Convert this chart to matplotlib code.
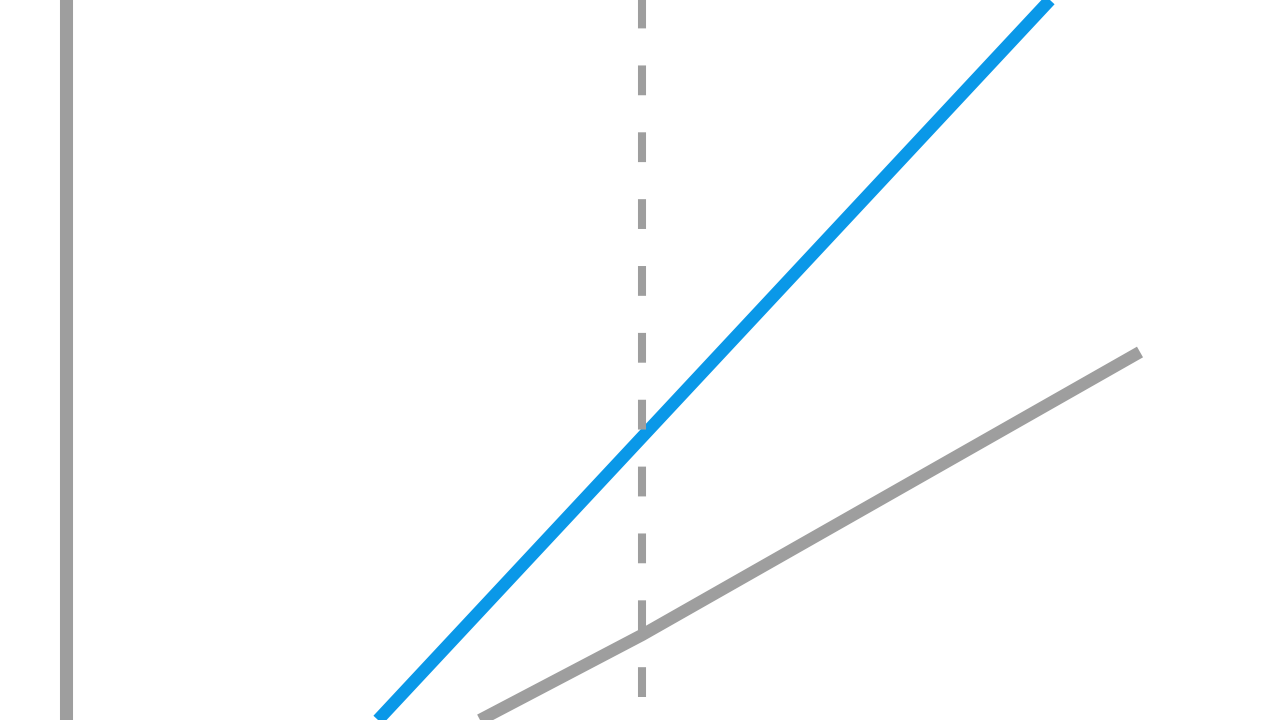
import numpy as np
import matplotlib
matplotlib.use("Agg")
import matplotlib.pyplot as plt

# values (x from the y axis, y up from the bottom edge)
blue_x = [312, 984]
blue_y = [0, 720]
gray_x = [414, 576, 1074]
gray_y = [0, 85, 368]
marker_x = 576
marker_y = [23, 720]

GRAY = "#9e9e9e"
BLUE = "#0a98e8"

fig = plt.figure(figsize=(12.8, 7.2), dpi=100)
ax = fig.add_axes([66 / 1280, 0, 1 - 66 / 1280, 1])
ax.set_xlim(0, 1214)
ax.set_ylim(0, 720)

ax.plot(blue_x, blue_y, color=BLUE, linewidth=9, solid_capstyle="butt")
ax.plot(gray_x, gray_y, color=GRAY, linewidth=8.8, solid_capstyle="butt")
ax.plot([marker_x, marker_x], marker_y, color=GRAY, linewidth=5.8,
        linestyle=(0, (3.7, 4.6)), dash_capstyle="butt")

for side in ["top", "right", "bottom"]:
    ax.spines[side].set_visible(False)
ax.spines["left"].set_color(GRAY)
ax.spines["left"].set_linewidth(9.4)
ax.set_xticks([])
ax.set_yticks([])

fig.savefig("out.png", dpi=100)
